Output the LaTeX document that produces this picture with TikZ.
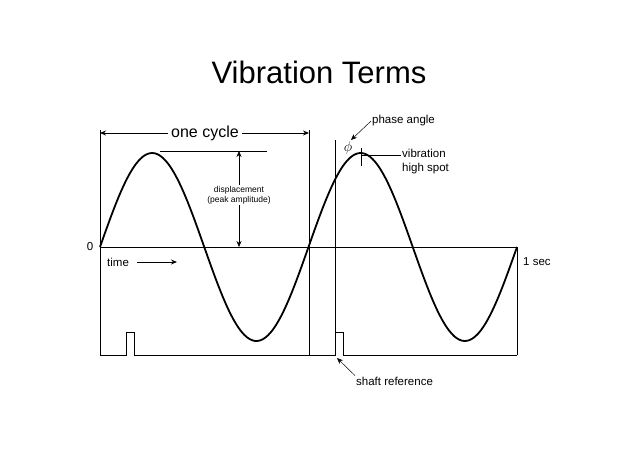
\documentclass[tikz,border=0pt]{standalone}
\usepackage{fontspec}
\setmainfont{Liberation Sans}
\usetikzlibrary{arrows.meta}
\begin{document}
\begin{tikzpicture}[x=1pt,y=-1pt,
  frame/.style={line width=0.9pt},
  thin/.style={line width=0.5pt},
  lbl/.style={font=\fontsize{11.5}{14}\selectfont,align=left,inner sep=1pt},
  wave/.style={line width=1.8pt},
  arr/.style={-{Stealth[length=6pt,width=5pt]}}]
\useasboundingbox (0,0) rectangle (638,451);
\node (title) at (319,72) {\fontsize{31}{36}\selectfont Vibration Terms};
% frame
\draw[frame] (100,355) -- (100,130);
\draw[frame] (309,355) -- (309,130);
\draw[frame] (517,247) -- (517,355);
\draw[frame] (100,247) -- (517,247);
\draw[frame] (100,355) -- (126,355) -- (126,332) -- (134,332) -- (134,355) -- (335,355) -- (335,332) -- (343,332) -- (343,355) -- (517,355);
\draw[thin] (335,140) -- (335,332);
% wave
\draw[wave] plot[domain=0:417,samples=160,smooth] (100+\x,{247-94*sin(\x/208.5*360)});
% one cycle
\node (oc) at (205,133) {\fontsize{16}{18}\selectfont one cycle};
\coordinate (ocl) at (100,133);
\coordinate (ocr) at (309,133);
\draw[frame,arr] (oc.west) -- (ocl);
\draw[frame,arr] (oc.east) -- (ocr);
% displacement
\draw[thin] (160,151) -- (267,151);
\coordinate (dt) at (239,151);
\coordinate (db) at (239,247);
\node[lbl,align=center,font=\fontsize{8.5}{10}\selectfont] (disp) at (239,195) {displacement\\(peak amplitude)};
\draw[thin,arr] (disp.north) -- (dt);
\draw[thin,arr] (disp.south) -- (db);
% labels
\node (zero) at (90,247) {\fontsize{11.5}{14}\selectfont 0};
\node[lbl,anchor=west] (time) at (106,262) {time};
\coordinate (te) at (177,262);
\draw[frame,arr] (137,262) -- (te);
\node[lbl,anchor=west] (sec) at (522,262) {1 sec};
% phase
\draw[thin] (361,148) -- (361,166);
\coordinate (hs) at (361,155);
\node[lbl,anchor=west] (vhs) at (401,162) {vibration\\high spot};
\draw[thin] (hs) -- (vhs.west |- hs);
\node (phi) at (348,148) {\fontsize{14}{16}\selectfont$\boldmath\phi$};
\node[lbl,anchor=west] (pa) at (371,121) {phase angle};
\coordinate (pat) at (351,140);
\draw[thin,arr] (pa.west) -- (pat);
\node[lbl,anchor=west] (sr) at (355,381) {shaft reference};
\coordinate (srt) at (337,358);
\draw[thin,arr] (sr.north west) -- (srt);
\end{tikzpicture}
\end{document}
